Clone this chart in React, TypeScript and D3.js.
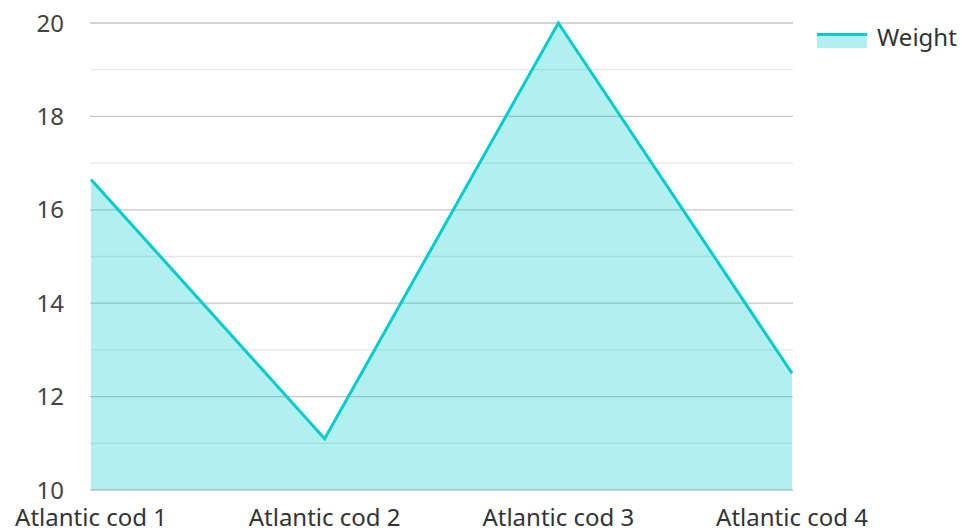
import * as d3 from 'd3';
import React from 'react';

const categories = ['Atlantic cod 1', 'Atlantic cod 2', 'Atlantic cod 3', 'Atlantic cod 4'];
const weight = [16.65, 11.1, 20, 12.5];
const majorTicks = [10, 12, 14, 16, 18, 20];
const minorTicks = [11, 13, 15, 17, 19];
const seriesName = 'Weight';

const W = 962;
const H = 531;
const margin = { top: 23, right: 170, bottom: 41, left: 91 };
const font = '"Noto Sans", "Open Sans", sans-serif';

const App: React.FC = () => {
  const innerW = W - margin.left - margin.right;
  const innerH = H - margin.top - margin.bottom;

  const x = d3.scalePoint<string>().domain(categories).range([0, innerW]);
  const y = d3.scaleLinear().domain([10, 20]).range([innerH, 0]);

  const pts = categories.map((c, i) => ({ c, v: weight[i] }));

  const line = d3.line<{ c: string; v: number }>()
    .x(d => x(d.c) ?? 0)
    .y(d => y(d.v));
  const area = d3.area<{ c: string; v: number }>()
    .x(d => x(d.c) ?? 0)
    .y0(innerH)
    .y1(d => y(d.v));

  return (
    <svg width={W} height={H} style={{ position: 'absolute', left: 0, top: 0, fontFamily: font }}>
      <g transform={`translate(${margin.left},${margin.top})`}>
        {minorTicks.map(t => (
          <line key={'m' + t} x1={-1} x2={innerW + 1} y1={y(t)} y2={y(t)} stroke="#e6e6e6" strokeWidth={1.3} />
        ))}
        {majorTicks.map(t => (
          <line key={'M' + t} x1={-1} x2={innerW + 1} y1={y(t)} y2={y(t)} stroke="#c6c6c6" strokeWidth={1.3} />
        ))}
        <path d={area(pts) ?? ''} fill="rgba(0,204,204,0.3)" />
        <path d={line(pts) ?? ''} fill="none" stroke="#00cccc" strokeWidth={3} />
        {majorTicks.map(t => (
          <text key={'t' + t} x={-27} y={y(t)} dy="0.36em" textAnchor="end" fontSize={24} fill="#444">
            {t}
          </text>
        ))}
        {categories.map(c => (
          <text key={c} x={x(c)} y={innerH + 36} textAnchor="middle" fontSize={24} fill="#333">
            {c}
          </text>
        ))}
      </g>
      <g transform="translate(817,33)">
        <rect x={0} y={0} width={50} height={15} fill="rgba(0,204,204,0.3)" />
        <line x1={0} x2={50} y1={1.5} y2={1.5} stroke="#00cccc" strokeWidth={3} />
        <text x={60} y={11} dy="0.1em" fontSize={24} fill="#333">{seriesName}</text>
      </g>
    </svg>
  );
};

export default App;
